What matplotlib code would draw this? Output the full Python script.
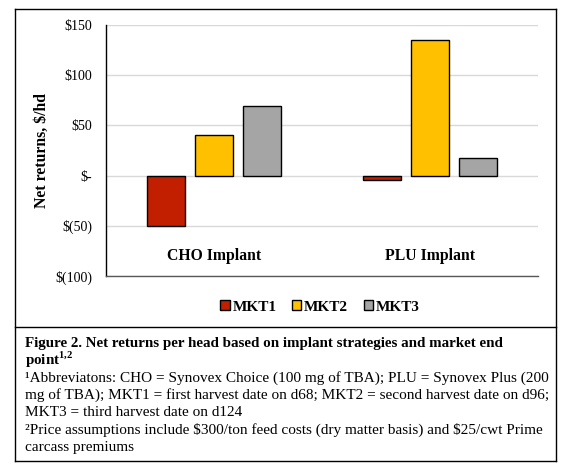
import matplotlib.pyplot as plt
import numpy as np
from matplotlib.lines import Line2D

plt.rcParams['font.family'] = ['Liberation Serif', 'DejaVu Serif']
plt.rcParams['mathtext.fontset'] = 'custom'
plt.rcParams['mathtext.rm'] = 'Liberation Serif'
plt.rcParams['mathtext.bf'] = 'Liberation Serif:bold'

groups = ["CHO Implant", "PLU Implant"]
series = ["MKT1", "MKT2", "MKT3"]
mkt1 = [-50, -4]
mkt2 = [40, 135]
mkt3 = [69, 18]
colors = ['#C21E00', '#FFC000', '#A5A5A5']
yticks = [-100, -50, 0, 50, 100, 150]
ylabels = ["$(100)", "$(50)", "$-", "$50", "$100", "$150"]

fig = plt.figure(figsize=(5.7, 4.72), dpi=100)
ax = fig.add_axes([106 / 570, 1 - 276 / 472, 432 / 570, 251 / 472])

x = np.arange(len(groups))
width = 0.174
step = 0.222
for i, (vals, c) in enumerate(zip([mkt1, mkt2, mkt3], colors)):
    ax.bar(x + (i - 1) * step, vals, width, color=c, edgecolor='black',
           linewidth=1.0, label=series[i], zorder=3)

ax.set_xlim(-0.5, 1.5)
ax.set_ylim(-100, 150)
ax.set_yticks(yticks)
ax.set_yticklabels(ylabels, fontsize=10)
ax.set_xticks([])
ax.grid(axis='y', color='#d9d9d9', linewidth=1.0, zorder=0)
ax.tick_params(axis='y', length=0, pad=10)
ax.spines['top'].set_visible(False)
ax.spines['right'].set_visible(False)
ax.spines['left'].set_color('black')
ax.spines['left'].set_linewidth(1.0)
ax.spines['bottom'].set_color('#595959')
ax.spines['bottom'].set_linewidth(1.0)

for xi, g in zip(x, groups):
    ax.text(xi, -80, g, ha='center', va='center', fontsize=11.3, fontweight='bold')

fig.text(42 / 570, 1 - 151 / 472, "Net returns, $/hd", rotation=90,
         ha='center', va='center', fontsize=11.3, fontweight='bold')

fig.legend(loc='center', bbox_to_anchor=(320 / 570, 1 - 307 / 472), ncol=3,
           frameon=False, prop={'weight': 'bold', 'size': 11},
           handlelength=0.6, handleheight=0.6, handletextpad=0.2,
           columnspacing=1.0)

# boxes around chart and caption
L, R = 15 / 570, 556 / 570
T, M, B = 1 - 9 / 472, 1 - 327 / 472, 1 - 461 / 472
for xs, ys in [([L, R], [T, T]), ([L, R], [M, M]), ([L, R], [B, B]),
               ([L, L], [B, T]), ([R, R], [B, T])]:
    fig.add_artist(Line2D(xs, ys, color='black', linewidth=1.0))

cap_x = 25 / 570
fig.text(cap_x, 1 - 343 / 472,
         "Figure 2. Net returns per head based on implant strategies and market end",
         fontsize=10.8, fontweight='bold', va='center')
fig.text(cap_x, 1 - 360 / 472, r"point$^{\mathbf{1{,}2}}$",
         fontsize=10.8, fontweight='bold', va='center')
lines = [
    "¹Abbreviatons: CHO = Synovex Choice (100 mg of TBA); PLU = Synovex Plus (200",
    "mg of TBA); MKT1 = first harvest date on d68; MKT2 = second harvest date on d96;",
    "MKT3 = third harvest date on d124",
    "²Price assumptions include \\$300/ton feed costs (dry matter basis) and \\$25/cwt Prime",
    "carcass premiums",
]
for k, t in enumerate(lines):
    fig.text(cap_x, 1 - (378 + 17.3 * k) / 472, t, fontsize=11, va='center')

fig.savefig("out.png", dpi=100)
